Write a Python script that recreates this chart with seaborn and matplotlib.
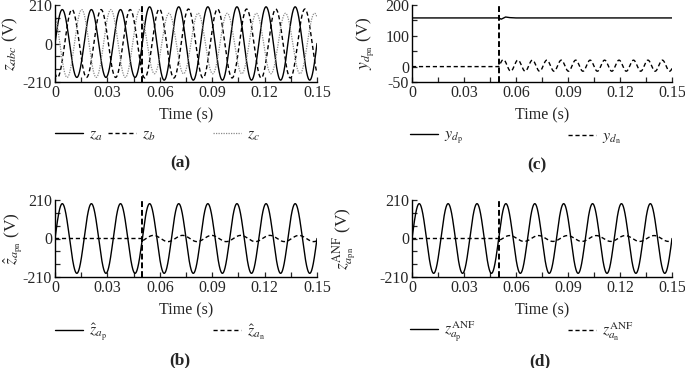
import numpy as np
import pandas as pd
import matplotlib
matplotlib.use("Agg")
import matplotlib.pyplot as plt
import seaborn as sns

# ---------------- data ----------------
t_end = 0.15
fault_time = 0.05
freq_hz = 60.0
n_samples = 3001

# (a) three-phase input z_abc: amplitudes before / after the fault, phases
za_amp = [185, 200]
zb_amp = [185, 188]
zc_amp = [185, 165]
phase_deg = [0, -120, 120]

# (c) dq components
yd_p_t = [0.0, 0.05, 0.0515, 0.054, 0.0565, 0.06, 0.15]
yd_p_v = [158, 158, 154, 161, 159, 158, 158]
yd_n_offset = 3
yd_n_amp = 18
yd_n_phase_deg = -30

# (b) estimated pos./neg. sequence
zhat_p_amp = 190
zhat_n_amp = 17
zhat_n_phase_deg = -47

# (d) ANF pos./neg. sequence
zanf_p_amp = 190
zanf_n_amp = 16
zanf_n_phase_deg = -47

xtick_values = [0, 0.03, 0.06, 0.09, 0.12, 0.15]
xtick_labels = ["0", "0.03", "0.06", "0.09", "0.12", "0.15"]
xtick_minor = [0.015, 0.045, 0.075, 0.105, 0.135]
ytick_abc = [-210, 0, 210]
ytick_abc_minor = [-140, -70, 70, 140]
ytick_dq = [-50, 0, 100, 200]
ytick_dq_minor = [50, 150]

# ---------------- build series ----------------
t = np.linspace(0, t_end, n_samples)
w = 2 * np.pi * freq_hz
after = t >= fault_time

def phase_wave(amps, ph):
    a = np.where(after, amps[1], amps[0])
    return a * np.sin(w * t + np.deg2rad(ph))

za = phase_wave(za_amp, phase_deg[0])
zb = phase_wave(zb_amp, phase_deg[1])
zc = phase_wave(zc_amp, phase_deg[2])

yd_n_raw = yd_n_offset + yd_n_amp * np.sin(2 * w * t + np.deg2rad(yd_n_phase_deg))
yd_n_start = yd_n_offset + yd_n_amp * np.sin(2 * w * fault_time + np.deg2rad(yd_n_phase_deg))
yd_n = np.where(after, yd_n_raw - yd_n_start * np.exp(-(t - fault_time) / 0.002), 0.0)

zhat_p = zhat_p_amp * np.sin(w * t)
zhat_n = np.where(after, zhat_n_amp * np.sin(w * t + np.deg2rad(zhat_n_phase_deg)), 0.0)
zanf_p = zanf_p_amp * np.sin(w * t)
zanf_n = np.where(after, zanf_n_amp * np.sin(w * t + np.deg2rad(zanf_n_phase_deg)), 0.0)

df = pd.DataFrame(dict(t=t, za=za, zb=zb, zc=zc, yd_n=yd_n,
                       zhat_p=zhat_p, zhat_n=zhat_n, zanf_p=zanf_p, zanf_n=zanf_n))
df_ydp = pd.DataFrame(dict(t=yd_p_t, v=yd_p_v))

# ---------------- style ----------------
sns.set_theme(style="ticks")
plt.rcParams["font.family"] = ["Liberation Serif", "DejaVu Serif"]
plt.rcParams["mathtext.fontset"] = "stix"
plt.rcParams["axes.unicode_minus"] = True
FS = 11.5

W, H = 685, 368
fig = plt.figure(figsize=(W / 100, H / 100), dpi=100)

def px_axes(l, r, top, bot):
    return fig.add_axes([l / W, 1 - bot / H, (r - l) / W, (bot - top) / H])

ax_a = px_axes(55, 317, 5, 82)
ax_c = px_axes(412, 672, 5, 82)
ax_b = px_axes(55, 317, 200, 277)
ax_d = px_axes(412, 672, 200, 277)

def line(ax, x, y, data, **kw):
    sns.lineplot(data=data, x=x, y=y, ax=ax, estimator=None, sort=False, **kw)
    return ax.get_lines()[-1]

LW = 1.0
h_za = line(ax_a, "t", "za", df, color="black", lw=LW)
h_zb = line(ax_a, "t", "zb", df, color="black", lw=LW)
h_zb.set_linestyle((0, (3, 2)))
h_zc = line(ax_a, "t", "zc", df, color="#8a8a8a", lw=0.9)
h_zc.set_linestyle((0, (1, 1)))

h_ydp = line(ax_c, "t", "v", df_ydp, color="black", lw=LW)
h_ydn = line(ax_c, "t", "yd_n", df, color="black", lw=LW)
h_ydn.set_linestyle((0, (3, 2)))

h_zhp = line(ax_b, "t", "zhat_p", df, color="black", lw=LW)
h_zhn = line(ax_b, "t", "zhat_n", df, color="black", lw=LW)
h_zhn.set_linestyle((0, (3, 2)))

h_zap = line(ax_d, "t", "zanf_p", df, color="black", lw=LW)
h_zan = line(ax_d, "t", "zanf_n", df, color="black", lw=LW)
h_zan.set_linestyle((0, (3, 2)))

ylabels = {
    ax_a: (r"$z_{abc}$ (V)", -0.135),
    ax_c: (r"$y_{d_{\mathrm{pn}}}$ (V)", -0.135),
    ax_b: (r"$\hat{z}_{a_{\mathrm{pn}}}$ (V)", -0.115),
    ax_d: (r"$z_{a_{\mathrm{pn}}}^{\mathrm{ANF}}$ (V)", -0.205),
}

for ax in (ax_a, ax_c, ax_b, ax_d):
    ax.axvline(fault_time, color="black", lw=1.4, ls=(0, (3, 1.5)))
    ax.set_xlim(0, t_end)
    ax.set_xticks(xtick_values, xtick_labels)
    ax.set_xticks(xtick_minor, minor=True)
    if ax is ax_c:
        ax.set_ylim(-50, 200)
        ax.set_yticks(ytick_dq, [str(v) for v in ytick_dq])
        ax.set_yticks(ytick_dq_minor, minor=True)
    else:
        ax.set_ylim(-210, 210)
        ax.set_yticks(ytick_abc, [str(v) for v in ytick_abc])
        ax.set_yticks(ytick_abc_minor, minor=True)
    ax.tick_params(which="both", direction="in", length=3.5, width=0.9, labelsize=FS, pad=2)
    for s in ("top", "right"):
        ax.spines[s].set_visible(False)
    for s in ("left", "bottom"):
        ax.spines[s].set_linewidth(1.0)
        ax.spines[s].set_color("black")
    ax.set_xlabel("Time (s)", fontsize=FS, labelpad=5)
    lab, xp = ylabels[ax]
    ax.set_ylabel(lab, fontsize=FS + 1)
    ax.yaxis.set_label_coords(xp, 0.5)

# ---------------- legends (one entry each) ----------------
def leg(h, label, xpx, ypx):
    fig.legend(handles=[h], labels=[label], loc="center left",
               bbox_to_anchor=(xpx / W, 1 - ypx / H), frameon=False,
               handlelength=1.75, handletextpad=0.35, borderpad=0,
               borderaxespad=0, fontsize=FS)

leg(h_za, r"$z_a$", 55, 135)
leg(h_zb, r"$z_b$", 108, 135)
leg(h_zc, r"$z_c$", 213, 135)
leg(h_ydp, r"$y_{d_{\mathrm{p}}}$", 410, 137)
leg(h_ydn, r"$y_{d_{\mathrm{n}}}$", 568, 137)
leg(h_zhp, r"$\hat{z}_{a_{\mathrm{p}}}$", 55, 332)
leg(h_zhn, r"$\hat{z}_{a_{\mathrm{n}}}$", 213, 332)
leg(h_zap, r"$z_{a_{\mathrm{p}}}^{\mathrm{ANF}}$", 410, 332)
leg(h_zan, r"$z_{a_{\mathrm{n}}}^{\mathrm{ANF}}$", 568, 332)

# ---------------- captions ----------------
for txt, xpx, ypx in [("(a)", 180, 163), ("(c)", 537, 165), ("(b)", 180, 360), ("(d)", 540, 361)]:
    fig.text(xpx / W, 1 - ypx / H, txt, ha="center", va="center",
             fontsize=FS + 1, fontweight="bold")

fig.savefig("out.png", dpi=100)
